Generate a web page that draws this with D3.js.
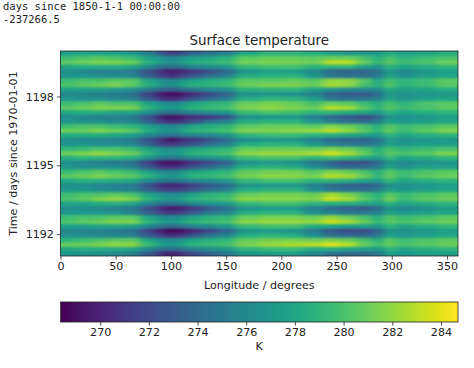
<!DOCTYPE html>
<html><head><meta charset="utf-8">
<script src="https://cdn.jsdelivr.net/npm/d3@7"></script>
<style>html,body{margin:0;padding:0;background:#fff}svg{display:block}text{font-family:"DejaVu Sans";fill:#222}</style>
</head><body><svg id="c" width="474" height="368"></svg>
<script>
const headerLines = ["days since 1850-1-1 00:00:00", "-237266.5"];
const chartTitle = "Surface temperature";
const xLabel = "Longitude / degrees";
const yLabel = "Time / days since 1970-01-01";
const barLabel = "K";
const xTicks = [0, 50, 100, 150, 200, 250, 300, 350];
const yTicks = [1192, 1195, 1198];
const barTicks = [270, 272, 274, 276, 278, 280, 282, 284];
const lonRange = [0, 360];
const timeRange = [1191.05, 1199.98];
const tempRange = [268.37, 284.7];
const lonEdges = [0,12,28,42,58,72,86,96,104,114,128,142,158,180,200,220,238,252,268,282,293,303,320,340,360];
const temperature = [
[277.5,277.8,277.6,277.5,277.0,275.5,273.0,271.0,272.0,273.5,274.5,275.5,278.0,279.0,279.0,278.5,277.5,277.0,277.0,277.0,278.5,277.5,278.0,278.5],
[279.5,280.0,280.5,280.0,279.5,277.8,276.5,276.0,276.5,277.5,278.0,278.5,280.5,280.8,280.8,280.5,281.0,281.0,280.0,278.5,280.0,279.0,279.5,280.0],
[280.5,281.0,281.5,281.5,281.0,278.8,277.0,276.3,277.0,278.5,279.0,279.5,281.2,281.5,281.3,281.0,283.0,283.0,281.0,279.0,280.8,279.5,280.0,281.0],
[278.0,278.5,278.5,278.5,278.0,276.0,274.5,274.0,274.5,275.8,276.2,276.8,279.2,279.8,279.8,278.8,279.0,279.0,277.5,276.5,279.0,278.0,278.5,279.0],
[276.5,276.0,275.5,275.5,275.0,272.5,270.5,269.5,270.0,271.0,272.3,273.8,276.8,277.5,277.5,276.0,274.0,273.5,273.5,274.5,277.5,276.0,277.0,277.5],
[277.0,277.0,276.5,276.5,276.0,273.5,271.5,270.5,271.5,272.8,274.5,275.5,278.5,279.0,279.0,277.0,275.0,274.5,274.5,275.0,278.0,276.5,277.5,278.0],
[279.5,280.0,280.0,280.5,280.5,278.0,276.5,276.0,276.5,278.0,278.5,279.0,280.5,280.5,280.8,280.5,282.0,282.0,280.5,278.0,280.0,279.0,279.5,280.5],
[280.0,280.5,281.0,281.5,280.5,278.8,277.0,276.3,277.5,278.8,279.0,279.5,281.0,281.5,281.5,281.0,282.5,282.0,280.0,278.5,280.5,279.0,279.5,280.5],
[277.5,277.5,277.5,277.0,276.5,275.0,273.5,273.0,273.5,275.0,275.8,276.5,278.8,279.0,279.0,277.5,276.5,276.0,276.0,276.0,278.5,277.5,278.0,278.5],
[276.0,275.8,275.5,275.0,274.5,271.5,269.5,268.7,269.3,270.5,272.0,273.5,276.5,277.0,276.5,275.5,273.5,273.0,273.0,274.0,277.5,276.5,277.0,277.0],
[277.0,276.5,276.5,276.0,275.5,273.0,271.0,270.0,271.0,272.8,274.0,275.2,278.5,279.0,279.0,277.5,275.0,274.5,275.0,275.5,278.0,277.0,277.5,278.0],
[279.5,280.0,280.5,280.0,280.0,278.0,276.5,276.0,276.5,278.0,278.8,279.2,281.0,281.3,281.0,280.0,281.0,280.5,279.5,278.5,280.0,279.0,280.0,280.5],
[280.5,281.0,281.5,281.5,281.5,279.0,277.5,276.8,277.5,279.0,279.3,279.8,281.5,282.0,281.5,281.0,283.0,282.5,280.5,279.0,280.5,279.5,280.0,280.5],
[278.0,278.5,278.5,278.0,278.0,276.5,275.0,274.5,275.0,276.0,276.5,277.0,279.5,280.0,279.8,279.0,279.0,278.5,278.0,277.0,279.0,278.0,278.5,279.0],
[276.5,276.0,275.5,275.5,275.0,272.5,270.0,269.0,269.5,270.5,271.0,272.5,276.5,277.0,277.0,275.5,274.0,273.0,272.0,273.5,277.0,276.5,277.0,277.5],
[277.0,276.5,276.5,276.0,276.0,273.5,271.5,270.5,271.0,272.5,274.5,275.5,278.5,279.0,278.8,277.0,275.5,274.5,274.0,275.5,278.0,277.0,277.5,278.0],
[279.5,280.0,280.0,279.5,279.0,277.5,276.5,276.0,276.5,278.0,278.5,279.0,280.5,281.0,281.0,280.5,281.5,281.0,280.0,278.5,280.5,279.5,280.0,280.5],
[281.0,281.0,281.5,281.0,280.5,278.5,277.0,276.5,277.5,279.0,279.3,279.8,281.5,281.5,281.8,282.0,283.0,282.0,280.5,279.0,281.0,279.5,280.5,281.5],
[278.5,278.5,278.5,278.0,277.5,276.0,275.0,274.5,275.0,275.8,276.0,276.8,279.0,279.5,279.5,278.8,278.5,278.0,277.5,277.0,279.0,278.0,278.5,279.0],
[276.5,276.0,276.0,275.5,275.0,272.5,270.5,269.0,270.0,271.0,272.3,274.0,276.3,276.8,276.8,275.5,274.0,273.5,273.5,274.5,277.5,276.5,277.0,277.0],
[277.0,277.0,276.5,276.5,276.0,273.5,271.5,271.0,271.5,272.8,274.5,275.5,278.5,279.0,278.8,277.0,275.5,275.0,275.0,275.5,278.0,277.0,277.5,277.5],
[279.0,279.5,280.0,280.0,279.5,278.0,276.5,276.0,277.0,278.0,278.5,279.0,280.8,281.0,281.0,281.0,281.5,281.0,280.0,278.5,280.0,279.0,279.5,280.0],
[281.0,281.5,282.0,281.5,281.0,279.0,277.5,276.8,277.5,279.0,279.3,279.8,281.8,282.2,282.2,282.5,283.5,282.5,281.0,279.0,280.5,280.0,280.5,281.5],
[278.5,279.0,279.0,279.0,278.5,276.5,275.0,274.5,275.0,276.0,276.5,277.2,279.5,280.0,279.8,279.0,279.5,279.0,278.0,277.0,279.5,278.0,278.5,279.0],
[276.5,276.0,275.5,275.0,274.5,271.5,269.5,268.8,269.5,271.0,272.0,273.5,276.8,277.2,276.8,275.0,273.5,272.5,272.5,274.0,277.0,276.0,276.5,277.0],
[277.0,276.5,276.5,276.5,275.5,273.0,271.0,270.5,271.0,272.8,274.0,275.5,278.5,279.0,278.5,276.5,275.0,274.0,274.0,275.0,278.0,276.5,277.5,277.5],
[279.5,280.0,280.5,280.0,279.5,277.5,276.0,275.8,276.5,278.0,278.5,279.0,280.8,281.2,281.2,280.5,281.5,281.0,280.0,278.5,280.5,279.5,280.0,280.5],
[280.5,281.0,281.5,281.0,280.5,279.0,277.5,276.8,277.5,279.0,279.3,279.8,281.3,281.8,281.8,281.5,283.0,282.5,281.0,279.0,281.0,279.5,280.5,281.0],
[278.0,278.5,278.5,278.5,278.0,276.0,275.0,274.5,275.0,275.8,276.3,277.0,279.2,279.8,279.8,279.0,279.0,278.5,278.0,277.0,279.5,278.0,278.5,279.0],
[276.5,276.5,276.0,275.5,275.0,272.5,270.5,270.0,270.5,271.5,272.8,274.0,276.8,277.2,277.2,275.5,274.0,273.5,273.0,274.0,276.5,276.5,277.0,277.5],
[277.0,277.0,276.5,276.0,275.5,273.5,272.0,271.5,272.0,273.0,274.5,275.5,278.5,279.0,279.0,276.5,275.0,274.5,274.5,275.0,278.0,277.0,277.5,278.0],
[279.5,280.0,280.0,280.5,280.0,278.0,276.5,276.0,276.5,278.0,278.8,279.2,280.8,281.2,281.2,281.0,282.5,281.5,280.0,278.5,280.5,279.5,280.0,280.5],
[280.0,280.5,281.5,282.0,281.5,279.0,277.5,276.8,277.5,279.0,279.3,279.8,281.8,281.8,281.8,281.5,283.5,282.5,280.5,279.0,281.5,279.5,280.5,281.0],
[278.0,278.0,278.5,278.5,278.0,276.0,274.5,274.5,275.0,276.2,276.8,277.2,279.3,279.8,279.8,279.0,278.5,278.5,278.0,277.5,279.0,278.0,278.5,279.0],
[276.5,276.5,276.0,275.5,275.0,272.5,270.5,269.5,270.0,271.2,272.8,274.2,276.8,277.2,277.2,275.5,274.0,273.5,273.0,274.0,277.0,276.0,276.5,277.5],
[277.0,277.0,277.0,276.5,275.5,273.5,271.5,271.0,271.5,273.0,275.0,275.8,278.5,279.0,278.8,276.5,275.5,275.0,275.0,275.5,278.0,277.0,277.5,278.0],
[279.5,280.0,280.0,280.5,280.5,278.0,276.5,276.0,276.5,278.0,278.8,279.2,280.8,281.2,281.2,281.0,282.0,281.0,280.0,278.5,280.5,279.5,280.0,280.5],
[280.0,280.5,281.0,281.5,281.5,279.0,277.5,276.8,277.5,279.0,279.3,279.8,281.8,282.2,282.2,282.0,283.5,282.5,281.0,279.0,280.5,280.0,280.5,281.0],
[277.5,277.5,278.0,278.0,277.5,276.0,274.5,274.0,274.5,275.8,276.3,277.0,279.3,279.8,279.8,278.5,278.0,277.5,277.5,277.0,279.0,278.0,278.5,279.0],
[276.0,275.5,275.5,275.0,274.5,271.5,269.5,268.5,269.0,270.3,271.8,273.5,276.8,277.2,276.8,275.0,272.8,272.0,272.0,273.5,277.0,276.5,277.0,277.5],
[276.5,276.5,276.0,276.0,275.5,273.0,271.5,270.5,271.0,272.8,274.5,275.8,278.5,279.0,278.5,276.5,274.5,274.0,274.0,275.0,278.0,277.0,277.5,278.0],
[279.0,279.5,280.0,280.5,280.5,278.0,276.5,276.0,276.5,278.0,278.5,279.0,280.8,281.2,281.2,281.0,281.5,281.0,280.0,278.5,280.5,279.5,280.0,280.5],
[281.0,281.0,281.5,282.0,282.0,279.5,277.5,276.8,277.5,279.0,279.3,279.8,281.5,282.2,282.7,283.0,284.0,283.0,281.0,279.5,281.0,280.0,280.5,281.0],
[278.0,278.5,278.5,278.5,278.0,276.0,274.5,274.0,274.5,275.8,276.3,277.0,279.0,279.5,279.5,278.5,278.5,278.0,277.5,277.0,279.0,278.0,278.5,279.0],
[277.0,276.5,276.5,276.0,275.5,273.0,270.5,269.5,270.5,272.0,273.3,274.8,276.8,277.2,277.2,276.0,274.5,274.0,274.0,275.0,277.5,277.0,277.5,277.5]
];

const W = {l:60.5, r:458, t:51, b:256};
const B = {t:302, b:322};
const svg = d3.select("#c");
const ink = "#222";
const fs = 11.1;

svg.selectAll("text.head").data(headerLines).join("text").attr("class","head")
  .attr("x",3).attr("y",(d,i)=>9.5+i*13).style("font-family","'DejaVu Sans Mono'").style("font-size","10.5px").text(d=>d);

const x = d3.scaleLinear().domain(lonRange).range([W.l,W.r]);
const y = d3.scaleLinear().domain(timeRange).range([W.b,W.t]);
const color = d3.scaleSequential(d3.interpolateViridis).domain(tempRange);
const rowScale = d3.scaleBand().domain(d3.range(temperature.length)).range([W.t,W.b]);

const defs = svg.append("defs");
defs.append("clipPath").attr("id","plot").append("rect").attr("x",W.l).attr("y",W.t).attr("width",W.r-W.l).attr("height",W.b-W.t);
defs.append("filter").attr("id","soft").attr("x","-5%").attr("y","-5%").attr("width","110%").attr("height","110%")
  .attr("color-interpolation-filters","sRGB")
  .append("feGaussianBlur").attr("stdDeviation","4.4 1.2");

const cells = temperature.flatMap((row,i)=>row.map((v,j)=>({i,j,v})));
const plot = svg.append("g").attr("clip-path","url(#plot)");
function drawCells(g){
  g.selectAll("rect").data(cells).join("rect")
   .attr("x",d=>x(lonEdges[d.j])).attr("width",d=>x(lonEdges[d.j+1])-x(lonEdges[d.j])+0.6)
   .attr("y",d=>rowScale(d.i)).attr("height",rowScale.bandwidth()+0.6)
   .attr("fill",d=>color(d.v));
}
drawCells(plot.append("g"));
drawCells(plot.append("g").attr("filter","url(#soft)"));

const styleAxis = g=>{
  g.selectAll("path.domain").remove();
  g.selectAll("line").attr("stroke",ink).attr("stroke-width",0.8);
  g.selectAll("text").style("font-size",fs+"px").attr("fill",ink);
};
svg.append("g").attr("transform",`translate(0,${W.b})`)
  .call(d3.axisBottom(x).tickValues(xTicks).tickSize(3.6).tickPadding(3)).call(styleAxis);
svg.append("g").attr("transform",`translate(${W.l},0)`)
  .call(d3.axisLeft(y).tickValues(yTicks).tickFormat(d3.format("d")).tickSize(3.6).tickPadding(3)).call(styleAxis);
svg.append("rect").attr("x",W.l).attr("y",W.t).attr("width",W.r-W.l).attr("height",W.b-W.t)
  .attr("fill","none").attr("stroke",ink).attr("stroke-width",0.8);

svg.append("text").attr("x",(W.l+W.r)/2).attr("y",44.5).attr("text-anchor","middle").style("font-size","13.4px").text(chartTitle);
svg.append("text").attr("x",(W.l+W.r)/2).attr("y",289).attr("text-anchor","middle").style("font-size",fs+"px").text(xLabel);
svg.append("text").attr("transform",`translate(16.5,${(W.t+W.b)/2}) rotate(-90)`).attr("text-anchor","middle").style("font-size",fs+"px").text(yLabel);

const bx = d3.scaleLinear().domain(tempRange).range([W.l,W.r]);
const barSteps = d3.range(256);
const barLevel = d3.scaleLinear().domain([0,256]).range(tempRange);
svg.append("g").attr("shape-rendering","crispEdges").selectAll("rect").data(barSteps).join("rect")
  .attr("x",d=>bx(barLevel(d))).attr("width",d=>bx(barLevel(d+1))-bx(barLevel(d))+1).attr("y",B.t).attr("height",B.b-B.t)
  .attr("fill",d=>color(barLevel(d+0.5)));
svg.append("rect").attr("x",W.r).attr("y",B.t-1).attr("width",3).attr("height",B.b-B.t+2).attr("fill","#fff");
svg.append("g").attr("transform",`translate(0,${B.b})`)
  .call(d3.axisBottom(bx).tickValues(barTicks).tickFormat(d3.format("d")).tickSize(3.6).tickPadding(3)).call(styleAxis);
svg.append("rect").attr("x",W.l).attr("y",B.t).attr("width",W.r-W.l).attr("height",B.b-B.t)
  .attr("fill","none").attr("stroke",ink).attr("stroke-width",0.8);
svg.append("text").attr("x",(W.l+W.r)/2).attr("y",350).attr("text-anchor","middle").style("font-size",fs+"px").text(barLabel);
</script></body></html>
